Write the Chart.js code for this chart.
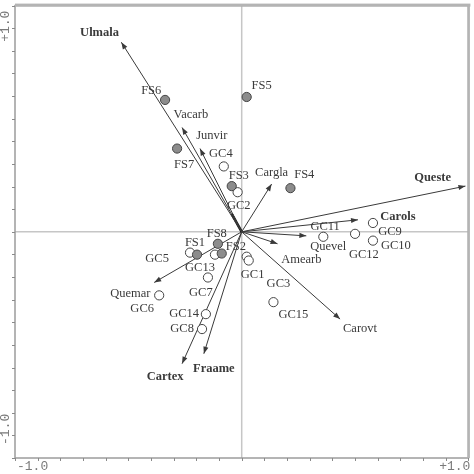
<!DOCTYPE html>
<html><head><meta charset="utf-8">
<script src="https://cdn.jsdelivr.net/npm/chart.js@4.4.0/dist/chart.umd.min.js"></script>
<style>html,body{margin:0;padding:0;background:#fff;}canvas{display:block;}</style>
</head><body>
<canvas id="c" width="474" height="474"></canvas>
<script>
// ---- data (ordination scores) ----
const speciesNames  = ['Ulmala','Vacarb','Junvir','Cargla','Queste','Carols','Quevel','Amearb','Carovt','Fraame','Cartex','Quemar',''];
const speciesX      = [-0.531,-0.263,-0.184, 0.132, 0.987, 0.513, 0.285, 0.158, 0.434,-0.167,-0.263,-0.386,-0.044];
const speciesY      = [ 0.838, 0.461, 0.368, 0.211, 0.202, 0.053,-0.018,-0.053,-0.386,-0.539,-0.583,-0.224, 0.079];
const speciesLabelX = [-0.627,-0.224,-0.132, 0.132, 0.842, 0.689, 0.382, 0.263, 0.522,-0.123,-0.338,-0.491, 0];
const speciesLabelY = [ 0.882, 0.518, 0.425, 0.263, 0.241, 0.066,-0.066,-0.123,-0.430,-0.605,-0.640,-0.272, 0];

const siteNames  = ['FS1','FS2','FS3','FS4','FS5','FS6','FS7','FS8',
                    'GC1','GC2','GC3','GC4','GC5','GC6','GC7','GC8','GC9','GC10','GC11','GC12','GC13','GC14','GC15'];
const siteX      = [-0.197,-0.088,-0.044, 0.215, 0.022,-0.338,-0.285,-0.105,
                     0.022,-0.018, 0.031,-0.079,-0.228,-0.364,-0.149,-0.175, 0.579, 0.579, 0.360, 0.500,-0.118,-0.158, 0.140];
const siteY      = [-0.101,-0.096, 0.202, 0.193, 0.596, 0.583, 0.368,-0.053,
                    -0.110, 0.175,-0.127, 0.289,-0.092,-0.281,-0.202,-0.430, 0.039,-0.039,-0.022,-0.009,-0.101,-0.364,-0.311];
const siteLabelX = [-0.206,-0.026,-0.013, 0.276, 0.088,-0.399,-0.254,-0.110,
                     0.048,-0.013, 0.162,-0.092,-0.373,-0.439,-0.180,-0.263, 0.654, 0.680, 0.368, 0.539,-0.184,-0.254, 0.228];
const siteLabelY = [-0.048,-0.066, 0.246, 0.254, 0.645, 0.623, 0.298,-0.009,
                    -0.189, 0.114,-0.228, 0.346,-0.118,-0.338,-0.268,-0.430, 0.000,-0.061, 0.022,-0.101,-0.158,-0.364,-0.368];

const axisMin = -1.0, axisMax = 1.0;
const xTickLabels = ['-1.0','+1.0'];
const yTickLabels = ['-1.0','+1.0'];

// ---- styles ----
const boldSpecies = new Set(['Ulmala','Queste','Carols','Fraame','Cartex']);
const INK = '#3a3a3a';
const serif = '"Liberation Serif", "DejaVu Serif", serif';

const fsIdx = siteNames.map((n,i)=>i).filter(i=>siteNames[i].startsWith('FS'));
const gcIdx = siteNames.map((n,i)=>i).filter(i=>siteNames[i].startsWith('GC'));

const datasets = [];
speciesNames.forEach((n,i)=>{
  datasets.push({
    type:'line', label:'sp_'+i,
    data:[{x:0,y:0},{x:speciesX[i],y:speciesY[i]}],
    borderColor: n ? INK : '#111', borderWidth: n ? 1 : 2.6,
    pointRadius:0, fill:false, tension:0, order:2
  });
});
datasets.push({type:'scatter', label:'FS', data: fsIdx.map(i=>({x:siteX[i],y:siteY[i]})),
  backgroundColor:'#8c8c8c', borderColor:'#444', borderWidth:1, pointRadius:4.6, order:0});
datasets.push({type:'scatter', label:'GC', data: gcIdx.map(i=>({x:siteX[i],y:siteY[i]})),
  backgroundColor:'#ffffff', borderColor:'#444', borderWidth:1, pointRadius:4.6, order:1});

const framePlugin = {
  id:'frame',
  beforeDatasetsDraw(chart){
    const {ctx, chartArea:a, scales:{x,y}} = chart;
    ctx.save();
    const x0 = x.getPixelForValue(0), y0 = y.getPixelForValue(0);
    ctx.strokeStyle = '#c6c6c6'; ctx.lineWidth = 1.5;
    ctx.beginPath();
    ctx.moveTo(x0, a.top); ctx.lineTo(x0, a.bottom);
    ctx.moveTo(a.left, y0); ctx.lineTo(a.right, y0);
    ctx.stroke();
    // frame
    ctx.strokeStyle = '#9c9c9c'; ctx.lineWidth = 1.5;
    ctx.strokeRect(a.left, a.top, a.right - a.left, a.bottom - a.top);
    ctx.fillStyle = '#b4b4b4';
    ctx.fillRect(a.left, a.top - 2, a.right - a.left + 2, 3);
    ctx.fillRect(a.right - 1, a.top, 2.5, a.bottom - a.top);
    // ticks every 0.1
    ctx.strokeStyle = '#8a8a8a'; ctx.lineWidth = 1;
    ctx.beginPath();
    for (let k = 0; k <= 20; k++) {
      const v = axisMin + k * (axisMax - axisMin) / 20;
      const px = Math.round(x.getPixelForValue(v)) + 0.5;
      ctx.moveTo(px, a.bottom); ctx.lineTo(px, a.bottom + 3);
      const py = Math.round(y.getPixelForValue(v)) + 0.5;
      ctx.moveTo(a.left - 3, py); ctx.lineTo(a.left, py);
    }
    ctx.stroke();
    // axis end labels
    ctx.fillStyle = '#7a7a7a';
    ctx.font = '13px "Liberation Mono", "DejaVu Sans Mono", monospace';
    ctx.textBaseline = 'middle';
    ctx.textAlign = 'left';
    ctx.fillText(xTickLabels[0], x.getPixelForValue(axisMin) + 2, a.bottom + 9);
    ctx.textAlign = 'right';
    ctx.fillText(xTickLabels[1], x.getPixelForValue(axisMax) + 2, a.bottom + 9);
    // y labels rotated
    ctx.save();
    ctx.translate(6, y.getPixelForValue(axisMin) - 13);
    ctx.rotate(-Math.PI/2);
    ctx.textAlign = 'left';
    ctx.fillText(yTickLabels[0], 0, 0);
    ctx.restore();
    ctx.save();
    ctx.translate(6, y.getPixelForValue(axisMax) + 5);
    ctx.rotate(-Math.PI/2);
    ctx.textAlign = 'right';
    ctx.fillText(yTickLabels[1], 0, 0);
    ctx.restore();
    ctx.restore();
  },
  afterDatasetsDraw(chart){
    const {ctx, scales:{x,y}} = chart;
    ctx.save();
    // arrowheads
    ctx.fillStyle = INK;
    speciesNames.forEach((n,i)=>{
      if (!n) return;
      const x0 = x.getPixelForValue(0), y0 = y.getPixelForValue(0);
      const x1 = x.getPixelForValue(speciesX[i]), y1 = y.getPixelForValue(speciesY[i]);
      const ang = Math.atan2(y1 - y0, x1 - x0);
      const L = 7, W = 2.6;
      ctx.beginPath();
      ctx.moveTo(x1, y1);
      ctx.lineTo(x1 - L*Math.cos(ang) + W*Math.sin(ang), y1 - L*Math.sin(ang) - W*Math.cos(ang));
      ctx.lineTo(x1 - L*Math.cos(ang) - W*Math.sin(ang), y1 - L*Math.sin(ang) + W*Math.cos(ang));
      ctx.closePath(); ctx.fill();
    });
    // labels
    ctx.textAlign = 'center'; ctx.textBaseline = 'middle';
    ctx.fillStyle = INK;
    speciesNames.forEach((n,i)=>{
      if (!n) return;
      ctx.font = (boldSpecies.has(n) ? 'bold ' : '') + '12.5px ' + serif;
      ctx.fillText(n, x.getPixelForValue(speciesLabelX[i]), y.getPixelForValue(speciesLabelY[i]));
    });
    ctx.font = '12.5px ' + serif;
    siteNames.forEach((n,i)=>{
      ctx.fillText(n, x.getPixelForValue(siteLabelX[i]), y.getPixelForValue(siteLabelY[i]));
    });
    ctx.restore();
  }
};

new Chart(document.getElementById('c'), {
  type:'scatter',
  data:{datasets},
  options:{
    responsive:false, animation:false,
    layout:{padding:{left:15, right:3, top:2, bottom:16}},
    plugins:{legend:{display:false}, tooltip:{enabled:false}},
    scales:{
      x:{type:'linear', min:axisMin, max:axisMax, display:false},
      y:{type:'linear', min:axisMin, max:axisMax, display:false}
    }
  },
  plugins:[framePlugin]
});
</script>
</body></html>
